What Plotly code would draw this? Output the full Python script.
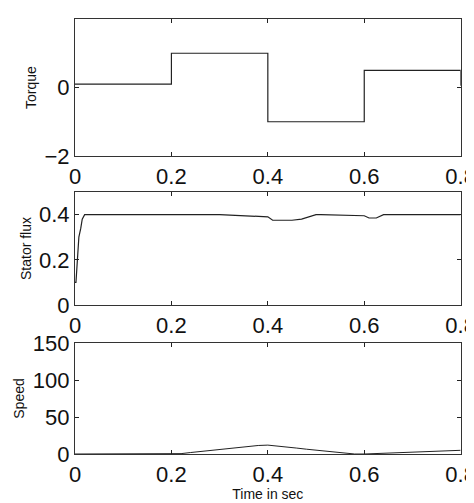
import plotly.graph_objects as go

# torque (step reference with chattering)
torque_t = [0, 0.2, 0.2, 0.4, 0.4, 0.6, 0.6, 0.8, 0.8]
torque_v = [0.1, 0.1, 1.0, 1.0, -1.0, -1.0, 0.5, 0.5, 0.05]

flux_t = [0, 0.002, 0.005, 0.008, 0.012, 0.015, 0.02, 0.1, 0.2, 0.3, 0.4, 0.41, 0.45, 0.47,
          0.5, 0.51, 0.6, 0.61, 0.625, 0.64, 0.7, 0.8]
flux_v = [0.1, 0.1, 0.2, 0.3, 0.34, 0.38, 0.4, 0.4, 0.4, 0.4, 0.39, 0.375, 0.375, 0.38,
          0.4, 0.4, 0.395, 0.385, 0.385, 0.4, 0.4, 0.4]

speed_t = [0, 0.2, 0.22, 0.24, 0.26, 0.28, 0.30, 0.32, 0.34, 0.36, 0.38, 0.40, 0.42, 0.44,
           0.46, 0.48, 0.50, 0.52, 0.54, 0.56, 0.58, 0.60, 0.62, 0.64, 0.66, 0.68, 0.70,
           0.72, 0.74, 0.76, 0.78, 0.80]
speed_v = [0, 0, 0.5, 2, 3.5, 5, 6.5, 8, 9.5, 10.5, 11.5, 12, 11, 9.5, 8, 6.5, 5, 3.5, 2,
           1, 0, 0, 0.5, 1, 1.5, 2, 3, 3.5, 4, 4.5, 5, 5]

fig = go.Figure()
fig.add_trace(go.Scatter(x=torque_t, y=torque_v, mode="lines", line=dict(color="#222", width=1.2), xaxis="x", yaxis="y"))
fig.add_trace(go.Scatter(x=flux_t, y=flux_v, mode="lines", line=dict(color="#222", width=1.2), xaxis="x2", yaxis="y2"))
fig.add_trace(go.Scatter(x=speed_t, y=speed_v, mode="lines", line=dict(color="#222", width=1), xaxis="x3", yaxis="y3"))

ax = dict(showgrid=False, zeroline=False, showline=True, mirror="ticks", linecolor="#333",
          linewidth=1.2, ticks="inside", ticklen=4, tickcolor="#222",
          tickfont=dict(family="Liberation Sans, Arial", size=22, color="#111"), automargin=False)
xd = [67 / 474, 0.955]
tv = [0, 0.2, 0.4, 0.6, 0.8]
tt = ["0", "0.2", "0.4", "0.6", "0.8"]
tfont = dict(family="Liberation Sans, Arial", size=14, color="#111")

fig.update_layout(
    width=474, height=503, showlegend=False,
    paper_bgcolor="white", plot_bgcolor="white",
    margin=dict(l=0, r=0, t=0, b=0),
    xaxis=dict(ax, domain=xd, range=[0, 0.8], anchor="y", tickvals=tv, ticktext=tt),
    yaxis=dict(ax, domain=[1 - 148 / 503, 1 - 11 / 503], range=[-2, 2], tickvals=[-2, 0, 2],
               title=dict(text="Torque", font=tfont, standoff=4)),
    xaxis2=dict(ax, domain=xd, range=[0, 0.8], anchor="y2", tickvals=tv, ticktext=tt),
    yaxis2=dict(ax, domain=[1 - 297 / 503, 1 - 184 / 503], range=[0, 0.5], anchor="x2",
                tickvals=[0, 0.2, 0.4], ticktext=["0", "0.2", "0.4"],
                title=dict(text="Stator flux", font=tfont, standoff=4)),
    xaxis3=dict(ax, domain=xd, range=[0, 0.8], anchor="y3", tickvals=tv, ticktext=tt,
                title=dict(text="Time in sec", font=tfont, standoff=2)),
    yaxis3=dict(ax, domain=[1 - 446 / 503, 1 - 335 / 503], range=[0, 150], anchor="x3",
                tickvals=[0, 50, 100, 150],
                title=dict(text="Speed", font=tfont, standoff=4)),
)
fig.write_html("out.html")
